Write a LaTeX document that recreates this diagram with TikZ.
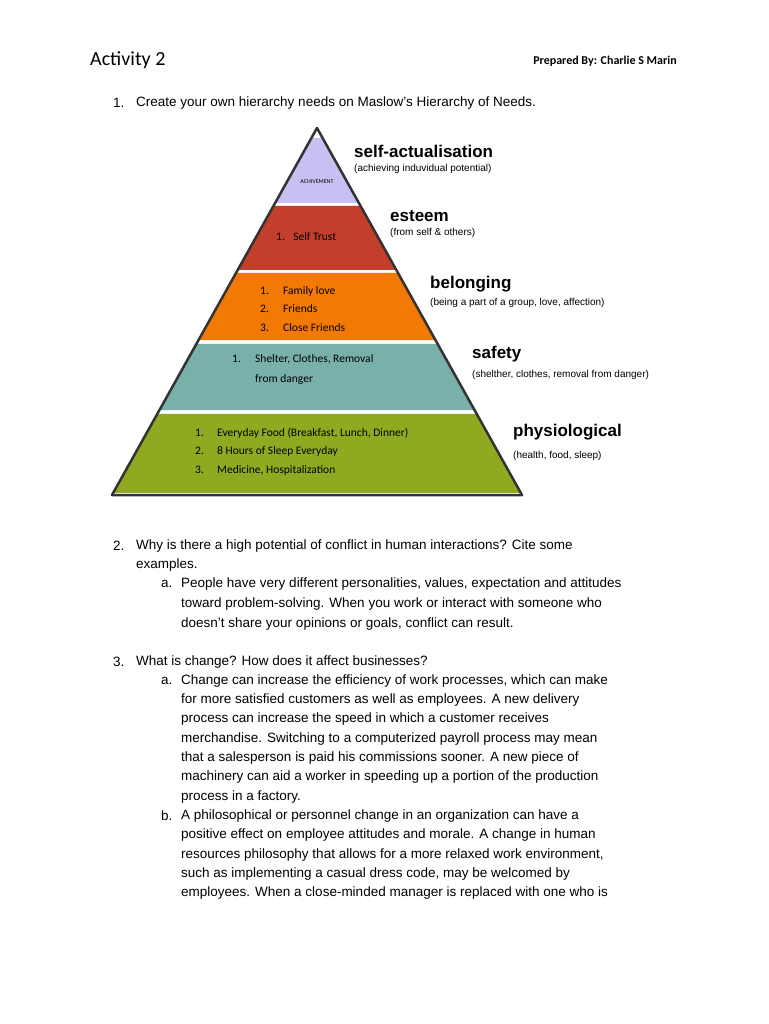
\documentclass[tikz,border=0pt]{standalone}
\usepackage{fontspec}
\setmainfont{Liberation Sans}
\newfontfamily\calfont{Carlito}
\usetikzlibrary{calc}
\definecolor{purp}{RGB}{200,192,242}
\definecolor{redb}{RGB}{196,62,44}
\definecolor{orgb}{RGB}{242,122,4}
\definecolor{tealb}{RGB}{122,176,170}
\definecolor{grnb}{RGB}{143,170,32}
\begin{document}
\begin{tikzpicture}[x=1pt, y=-1pt,
    txt/.style={anchor=west, inner sep=0pt, font=\fontsize{13.5}{15}\selectfont},
    lay/.style={anchor=west, inner sep=0pt, font=\calfont\fontsize{11.5}{13}\selectfont},
    head/.style={anchor=west, inner sep=0pt, font=\fontsize{17}{19}\selectfont\bfseries},
    sub/.style={anchor=west, inner sep=0pt, font=\fontsize{10}{12}\selectfont}]
    \useasboundingbox[fill=white] (0,0) rectangle (768,1024);
    % header
    \node[anchor=west, inner sep=0pt, font=\calfont\fontsize{20}{22}\selectfont] (title) at (90,60) {Activity 2};
    \node[anchor=east, inner sep=0pt, font=\calfont\fontsize{12}{14}\selectfont\bfseries] (prep) at (677,61) {Prepared By: Charlie S Marin};
    \node[txt] (q1n) at (113,103) {1.};
    \node[txt] (q1) at (136,103) {Create your own hierarchy needs on Maslow’s Hierarchy of Needs.};
    % pyramid
    \coordinate (apex) at (317,128);
    \coordinate (bl) at (112,495);
    \coordinate (br) at (522,495);
    \foreach \ya/\yb/\c in {138/203/purp, 206/270/redb, 273/340/orgb, 344/410/tealb, 414/493/grnb}{
      \pgfmathsetmacro\ta{(\ya-128)/367}
      \pgfmathsetmacro\tb{(\yb-128)/367}
      \fill[\c] ($(apex)!\ta!(bl)$) -- ($(apex)!\ta!(br)$) -- ($(apex)!\tb!(br)$) -- ($(apex)!\tb!(bl)$) -- cycle;
    }
    \draw[black!80, line width=2.5pt, line join=round] (bl) -- (apex) -- (br) -- cycle;
    % inside texts
    \node[inner sep=0pt, font=\calfont\fontsize{6}{7}\selectfont] (ach) at (317,182) {ACHIVEMENT};
    \node[lay] (st) at (276,237) {1.\enspace\ Self Trust};
    \foreach \y/\n/\t [count=\i] in {291/1./Family love, 309/2./Friends, 328/3./Close Friends}{
      \node[lay] (on\i) at (260,\y) {\n};
      \node[lay] (ot\i) at (283,\y) {\t};
    }
    \node[lay] (sn) at (232,359) {1.};
    \node[lay] (s1) at (255,359) {Shelter, Clothes, Removal};
    \node[lay] (s2) at (255,379) {from danger};
    \foreach \y/\n/\t [count=\i] in {433/1./Everyday Food (Breakfast{,} Lunch{,} Dinner), 451/2./8 Hours of Sleep Everyday, 470/3./Medicine{,} Hospitalization}{
      \node[lay] (gn\i) at (195,\y) {\n};
      \node[lay] (gt\i) at (217,\y) {\t};
    }
    % side labels
    \node[head] (sa) at (354,151) {self-actualisation};
    \node[sub] (sas) at (354,169) {(achieving induvidual potential)};
    \node[head] (es) at (390,216) {esteem};
    \node[sub] (ess) at (390,233) {(from self \& others)};
    \node[head] (be) at (430,284) {belonging};
    \node[sub] (bes) at (430,303) {(being a part of a group, love, affection)};
    \node[head] (sf) at (472,354) {safety};
    \node[sub] (sfs) at (472,375) {(shelther, clothes, removal from danger)};
    \node[head] (ph) at (513,432) {physiological};
    \node[sub] (phs) at (513,456) {(health, food, sleep)};
    % question 2
    \node[txt] (q2n) at (113,546) {2.};
    \node[txt] (q2a) at (136,546) {Why is there a high potential of conflict in human interactions? Cite some};
    \node[txt] (q2b) at (136,565) {examples.};
    \node[txt] (q2l) at (161,584) {a.};
    \foreach \y/\t [count=\i] in {584/People have very different personalities{,} values{,} expectation and attitudes,
      604/toward problem-solving. When you work or interact with someone who,
      624/doesn’t share your opinions or goals{,} conflict can result.}{
      \node[txt] (q2t\i) at (181,\y) {\t};
    }
    % question 3
    \node[txt] (q3n) at (113,662) {3.};
    \node[txt] (q3) at (136,662) {What is change? How does it affect businesses?};
    \node[txt] (q3la) at (161,681) {a.};
    \foreach \y/\t [count=\i] in {681/Change can increase the efficiency of work processes{,} which can make,
      700/for more satisfied customers as well as employees. A new delivery,
      719/process can increase the speed in which a customer receives,
      739/merchandise. Switching to a computerized payroll process may mean,
      758/that a salesperson is paid his commissions sooner. A new piece of,
      777/machinery can aid a worker in speeding up a portion of the production,
      797/process in a factory.}{
      \node[txt] (q3a\i) at (181,\y) {\t};
    }
    \node[txt] (q3lb) at (161,816) {b.};
    \foreach \y/\t [count=\i] in {816/A philosophical or personnel change in an organization can have a,
      835/positive effect on employee attitudes and morale. A change in human,
      855/resources philosophy that allows for a more relaxed work environment{,},
      874/such as implementing a casual dress code{,} may be welcomed by,
      893/employees. When a close-minded manager is replaced with one who is}{
      \node[txt] (q3b\i) at (181,\y) {\t};
    }
\end{tikzpicture}
\end{document}
